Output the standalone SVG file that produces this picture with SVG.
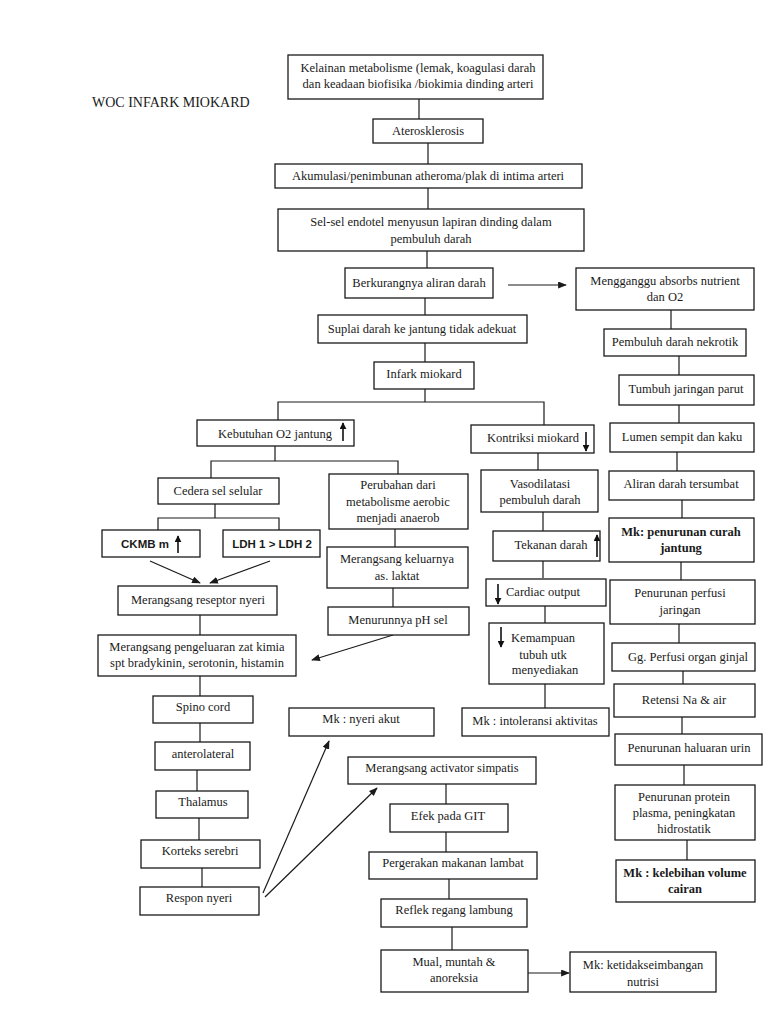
<svg xmlns="http://www.w3.org/2000/svg" width="768" height="1024" viewBox="0 0 768 1024">
<defs>
<style>
.b{fill:#fff;stroke:#1a1a1a;stroke-width:1.3}
.t{font-family:"Liberation Serif","Times New Roman",serif;font-size:12.5px;fill:#1a1a1a;text-anchor:middle}
.tb{font-weight:bold}
.s{font-family:"Liberation Sans",Arial,sans-serif;font-size:11.5px;font-weight:bold;fill:#1a1a1a;text-anchor:middle}
.c{fill:none;stroke:#1a1a1a;stroke-width:1.2}
.ca{fill:none;stroke:#1a1a1a;stroke-width:1.2;marker-end:url(#ah)}
.sm{fill:none;stroke:#111;stroke-width:1.6;marker-end:url(#sh)}
</style>
<marker id="ah" viewBox="0 0 10 8" refX="9" refY="4" markerWidth="9" markerHeight="7" markerUnits="userSpaceOnUse" orient="auto">
<path d="M0,0 L10,4 L0,8 z" fill="#1a1a1a"/>
</marker>
<marker id="sh" viewBox="0 0 10 10" refX="9" refY="5" markerWidth="7" markerHeight="7" markerUnits="userSpaceOnUse" orient="auto">
<path d="M0,0 L10,5 L0,10 z" fill="#111"/>
</marker>
</defs>
<rect width="768" height="1024" fill="#fff"/>

<text x="92" y="107" style="font-family:'Liberation Serif','Times New Roman',serif;font-size:14px;fill:#1a1a1a">WOC INFARK MIOKARD</text>

<g id="connectors">
<path class="c" d="M419,99 V120"/>
<path class="c" d="M428,143 V164"/>
<path class="c" d="M428,188 V209"/>
<path class="c" d="M427,251 V268"/>
<path class="c" d="M425,298 V315"/>
<path class="ca" d="M508,285 H566"/>
<path class="c" d="M425,343 V362"/>
<path class="c" d="M425,389 V402 M278,420 V402 H544 V425"/>
<path class="c" d="M275,446 V461 M211,478 V461 H398 V474"/>
<path class="c" d="M215,504 V518 M158,530 V518 H279 V530"/>
<path class="ca" d="M150,561 L200,583"/>
<path class="ca" d="M270,561 L210,583"/>
<path class="c" d="M200,615 V635"/>
<path class="c" d="M395,529 V547"/>
<path class="c" d="M393,588 V607"/>
<path class="ca" d="M393,635 L312,660"/>
<path class="c" d="M538,453 V470"/>
<path class="c" d="M543,512 V531"/>
<path class="c" d="M543,561 V578"/>
<path class="c" d="M545,606 V623"/>
<path class="c" d="M545,684 V708"/>
<path class="c" d="M671,310 V329"/>
<path class="c" d="M679,356 V375"/>
<path class="c" d="M679,405 V423"/>
<path class="c" d="M677,452 V471"/>
<path class="c" d="M682,500 V518"/>
<path class="c" d="M681,562 V580"/>
<path class="c" d="M679,624 V643"/>
<path class="c" d="M683,671 V684"/>
<path class="c" d="M682,717 V734"/>
<path class="c" d="M684,765 V785"/>
<path class="c" d="M687,840 V860"/>
<path class="c" d="M200,676 V696"/>
<path class="c" d="M200,723 V742"/>
<path class="c" d="M197,770 V791"/>
<path class="c" d="M199,818 V840"/>
<path class="c" d="M202,868 V887"/>
<path class="ca" d="M263,893 L329,741"/>
<path class="ca" d="M265,897 L377,788"/>
<path class="c" d="M446,784 V804"/>
<path class="c" d="M446,832 V852"/>
<path class="c" d="M449,879 V899"/>
<path class="c" d="M452,927 V950"/>
<path class="ca" d="M528,973 H569"/>
</g>

<g id="n1"><rect class="b" x="288" y="55" width="255" height="44"/><text class="t" x="418" y="72">Kelainan metabolisme (lemak, koagulasi darah</text><text class="t" x="418" y="88">dan keadaan biofisika /biokimia dinding arteri</text></g>
<g id="n2"><rect class="b" x="373" y="119" width="110" height="24"/><text class="t" x="428" y="135">Aterosklerosis</text></g>
<g id="n3"><rect class="b" x="275" y="164" width="307" height="24"/><text class="t" x="428" y="180">Akumulasi/penimbunan atheroma/plak di intima arteri</text></g>
<g id="n4"><rect class="b" x="278" y="209" width="306" height="42"/><text class="t" x="431" y="226">Sel-sel endotel menyusun lapiran dinding dalam</text><text class="t" x="431" y="243">pembuluh darah</text></g>
<g id="n5"><rect class="b" x="345" y="268" width="148" height="30"/><text class="t" x="419" y="287">Berkurangnya aliran darah</text></g>
<g id="n6"><rect class="b" x="576" y="268" width="178" height="42"/><text class="t" x="665" y="285">Mengganggu absorbs nutrient</text><text class="t" x="665" y="301">dan O2</text></g>
<g id="n7"><rect class="b" x="318" y="315" width="209" height="28"/><text class="t" x="422" y="333">Suplai darah ke jantung tidak adekuat</text></g>
<g id="n8"><rect class="b" x="374" y="362" width="100" height="27"/><text class="t" x="424" y="378">Infark miokard</text></g>
<g id="n9"><rect class="b" x="604" y="329" width="142" height="27"/><text class="t" x="675" y="346">Pembuluh darah nekrotik</text></g>
<g id="n10"><rect class="b" x="619" y="375" width="135" height="30"/><text class="t" x="686" y="393">Tumbuh jaringan parut</text></g>
<g id="n11"><rect class="b" x="197" y="420" width="157" height="26"/><text class="t" x="275" y="438">Kebutuhan O2 jantung</text><path class="sm" d="M343,441 V423"/></g>
<g id="n12"><rect class="b" x="471" y="425" width="123" height="28"/><text class="t" x="533" y="442">Kontriksi miokard</text><path class="sm" d="M586,432 V451"/></g>
<g id="n13"><rect class="b" x="610" y="423" width="144" height="29"/><text class="t" x="682" y="441">Lumen sempit dan kaku</text></g>
<g id="n14"><rect class="b" x="158" y="478" width="121" height="26"/><text class="t" x="218" y="495">Cedera sel selular</text></g>
<g id="n15"><rect class="b" x="329" y="474" width="139" height="55"/><text class="t" x="398" y="489">Perubahan dari</text><text class="t" x="398" y="506">metabolisme aerobic</text><text class="t" x="398" y="522">menjadi anaerob</text></g>
<g id="n16"><rect class="b" x="481" y="470" width="117" height="42"/><text class="t" x="540" y="488">Vasodilatasi</text><text class="t" x="540" y="504">pembuluh darah</text></g>
<g id="n17"><rect class="b" x="609" y="471" width="145" height="29"/><text class="t" x="681" y="488">Aliran darah tersumbat</text></g>
<g id="n18"><rect class="b" x="102" y="530" width="98" height="27"/><text class="s" x="145" y="548">CKMB m</text><path class="sm" d="M178,553 V536"/></g>
<g id="n19"><rect class="b" x="223" y="530" width="97" height="27"/><text class="s" x="272" y="548">LDH 1 &gt; LDH 2</text></g>
<g id="n20"><rect class="b" x="493" y="531" width="107" height="30"/><text class="t" x="551" y="549">Tekanan darah</text><path class="sm" d="M597,557 V535"/></g>
<g id="n21"><rect class="b" x="609" y="518" width="145" height="44"/><text class="t tb" x="681" y="536">Mk: penurunan curah</text><text class="t tb" x="681" y="552">jantung</text></g>
<g id="n22"><rect class="b" x="327" y="547" width="141" height="41"/><text class="t" x="397" y="563">Merangsang keluarnya</text><text class="t" x="397" y="580">as. laktat</text></g>
<g id="n23"><rect class="b" x="118" y="586" width="159" height="29"/><text class="t" x="198" y="604">Merangsang reseptor nyeri</text></g>
<g id="n24"><rect class="b" x="486" y="579" width="120" height="27"/><text class="t" x="543" y="596">Cardiac output</text><path class="sm" d="M498,584 V604"/></g>
<g id="n25"><rect class="b" x="610" y="580" width="145" height="44"/><text class="t" x="680" y="597">Penurunan perfusi</text><text class="t" x="680" y="614">jaringan</text></g>
<g id="n26"><rect class="b" x="328" y="607" width="141" height="28"/><text class="t" x="398" y="624">Menurunnya pH sel</text></g>
<g id="n27"><rect class="b" x="489" y="623" width="115" height="61"/><text class="t" x="543" y="642">Kemampuan</text><text class="t" x="543" y="659">tubuh utk</text><text class="t" x="545" y="674">menyediakan</text><path class="sm" d="M501,627 V647"/></g>
<g id="n28"><rect class="b" x="98" y="635" width="198" height="41"/><text class="t" x="197" y="651">Merangsang pengeluaran zat kimia</text><text class="t" x="197" y="667">spt bradykinin, serotonin, histamin</text></g>
<g id="n29"><rect class="b" x="612" y="643" width="143" height="28"/><text class="t" x="688" y="661">Gg. Perfusi organ ginjal</text></g>
<g id="n30"><rect class="b" x="614" y="684" width="141" height="33"/><text class="t" x="684" y="704">Retensi Na &amp; air</text></g>
<g id="n31"><rect class="b" x="153" y="696" width="100" height="27"/><text class="t" x="203" y="711">Spino cord</text></g>
<g id="n32"><rect class="b" x="289" y="708" width="145" height="28"/><text class="t" x="361" y="723">Mk : nyeri akut</text></g>
<g id="n33"><rect class="b" x="462" y="708" width="147" height="28"/><text class="t" x="535" y="725">Mk : intoleransi aktivitas</text></g>
<g id="n34"><rect class="b" x="615" y="734" width="147" height="31"/><text class="t" x="689" y="752">Penurunan haluaran urin</text></g>
<g id="n35"><rect class="b" x="155" y="742" width="95" height="28"/><text class="t" x="203" y="758">anterolateral</text></g>
<g id="n36"><rect class="b" x="348" y="757" width="188" height="27"/><text class="t" x="442" y="772">Merangsang activator simpatis</text></g>
<g id="n37"><rect class="b" x="615" y="785" width="140" height="55"/><text class="t" x="684" y="801">Penurunan protein</text><text class="t" x="684" y="817">plasma, peningkatan</text><text class="t" x="684" y="833">hidrostatik</text></g>
<g id="n38"><rect class="b" x="156" y="791" width="92" height="27"/><text class="t" x="203" y="806">Thalamus</text></g>
<g id="n39"><rect class="b" x="390" y="804" width="118" height="28"/><text class="t" x="448" y="820">Efek pada GIT</text></g>
<g id="n40"><rect class="b" x="141" y="840" width="119" height="28"/><text class="t" x="200" y="855">Korteks serebri</text></g>
<g id="n41"><rect class="b" x="369" y="852" width="168" height="27"/><text class="t" x="453" y="867">Pergerakan makanan lambat</text></g>
<g id="n42"><rect class="b" x="616" y="860" width="139" height="42"/><text class="t tb" x="685" y="877">Mk : kelebihan volume</text><text class="t tb" x="685" y="893">cairan</text></g>
<g id="n43"><rect class="b" x="140" y="887" width="119" height="28"/><text class="t" x="199" y="902">Respon nyeri</text></g>
<g id="n44"><rect class="b" x="381" y="899" width="146" height="28"/><text class="t" x="454" y="914">Reflek regang lambung</text></g>
<g id="n45"><rect class="b" x="381" y="950" width="147" height="42"/><text class="t" x="454" y="966">Mual, muntah &amp;</text><text class="t" x="454" y="982">anoreksia</text></g>
<g id="n46"><rect class="b" x="570" y="952" width="146" height="40"/><text class="t" x="643" y="969">Mk: ketidakseimbangan</text><text class="t" x="643" y="986">nutrisi</text></g>
</svg>
